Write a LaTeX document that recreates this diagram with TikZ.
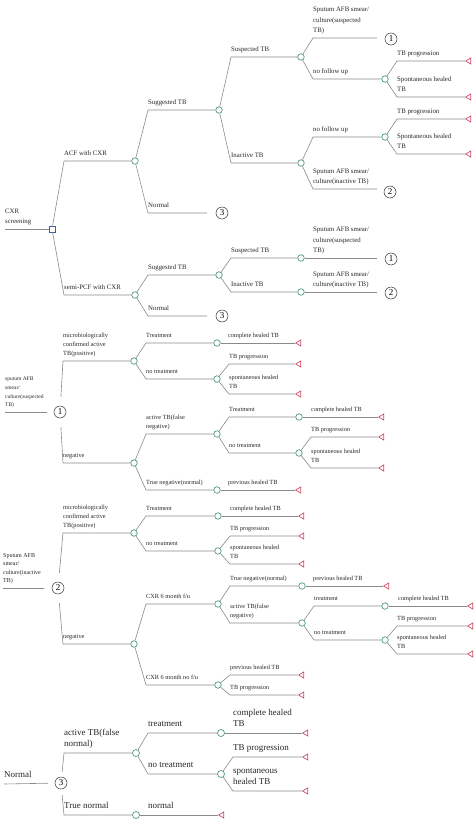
\documentclass[tikz,border=0pt]{standalone}
\usepackage{fontspec}
\setmainfont{Liberation Serif}
\usetikzlibrary{shapes.geometric}
\definecolor{linegray}{HTML}{8A8A8A}
\definecolor{chgreen}{HTML}{4E9A78}
\definecolor{termred}{HTML}{D04A64}
\definecolor{decblue}{HTML}{3A5BA8}

\begin{document}
\begin{tikzpicture}[x=1pt, y=-1pt,
	edge/.style = {draw=linegray, line width=0.6pt},
	chance/.style = {draw=chgreen, circle, fill=white, inner sep=0pt, minimum size=6.5pt, line width=0.7pt},
	dec/.style = {draw=decblue, rectangle, fill=white, inner sep=0pt, minimum size=6pt, line width=0.7pt},
	term/.style = {draw=termred, isosceles triangle, shape border rotate=180, isosceles triangle stretches, inner sep=0pt, minimum width=6pt, minimum height=5pt, line width=0.7pt},
	num/.style = {draw=black!80, circle, inner sep=0pt, minimum size=12pt, line width=0.5pt, font=\fontsize{9}{9}\selectfont},
	lbl/.style = {anchor=south west, inner sep=0pt, text depth=0pt, align=left, yshift=5pt, text=black!85, font=\fontsize{6.8}{10.5}\selectfont},
	sm/.style = {font=\fontsize{6.3}{9}\selectfont},
	big/.style = {font=\fontsize{9}{11}\selectfont, yshift=1.5pt}]
	\useasboundingbox (0,0) rectangle (474,822);

	%% CXR screening tree
	%% Nodes
	\coordinate (a0) at (5,229);
	\node[lbl] (ta0) at (a0) {CXR\\screening};
	\node[dec] (sq) at (52,229) {};

	\coordinate (a1s) at (64,161);
	\node[chance] (a1) at (135,161) {};
	\node[lbl] (ta1) at (a1s) {ACF with CXR};
	\coordinate (a2s) at (64,295);
	\node[chance] (a2) at (135,295) {};
	\node[lbl] (ta2) at (a2s) {semi-PCF with CXR};

	\coordinate (a11s) at (148,110);
	\node[chance] (a11) at (219,110) {};
	\node[lbl] (ta11) at (a11s) {Suggested TB};
	\coordinate (a12s) at (148,213);
	\coordinate (a12e) at (207,213);
	\node[num] (n3a) at (222,213) {3};
	\node[lbl] (ta12) at (a12s) {Normal};

	\coordinate (a111s) at (231,57);
	\node[chance] (a111) at (301,57) {};
	\node[lbl] (ta111) at (a111s) {Suspected TB};
	\coordinate (a112s) at (231,163);
	\node[chance] (a112) at (301,163) {};
	\node[lbl] (ta112) at (a112s) {Inactive TB};

	\coordinate (a1111s) at (313,38);
	\coordinate (a1111e) at (377,38);
	\node[num] (n1a) at (391,39) {1};
	\node[lbl] (ta1111) at (a1111s) {Sputum AFB smear/\\culture(suspected\\TB)};
	\coordinate (a1112s) at (313,79);
	\node[chance] (a1112) at (385,79) {};
	\node[lbl] (ta1112) at (a1112s) {no follow up};
	\coordinate (t1s) at (397,61);
	\node[term] (t1) at (469,61) {};
	\node[lbl] (tt1) at (t1s) {TB progression};
	\coordinate (t2s) at (397,97);
	\node[term] (t2) at (469,97) {};
	\node[lbl] (tt2) at (t2s) {Spontaneous healed\\TB};

	\coordinate (a1121s) at (313,137);
	\node[chance] (a1121) at (385,137) {};
	\node[lbl] (ta1121) at (a1121s) {no follow up};
	\coordinate (a1122s) at (313,189);
	\coordinate (a1122e) at (377,189);
	\node[num] (n2a) at (390,192) {2};
	\node[lbl] (ta1122) at (a1122s) {Sputum AFB smear/\\culture(inactive TB)};
	\coordinate (t3s) at (397,119);
	\node[term] (t3) at (469,119) {};
	\node[lbl] (tt3) at (t3s) {TB progression};
	\coordinate (t4s) at (397,154);
	\node[term] (t4) at (469,154) {};
	\node[lbl] (tt4) at (t4s) {Spontaneous healed\\TB};

	\coordinate (a21s) at (148,275);
	\node[chance] (a21) at (219,275) {};
	\node[lbl] (ta21) at (a21s) {Suggested TB};
	\coordinate (a22s) at (148,316);
	\coordinate (a22e) at (207,316);
	\node[num] (n3b) at (222,316) {3};
	\node[lbl] (ta22) at (a22s) {Normal};

	\coordinate (a211s) at (231,258);
	\node[chance] (a211) at (301,258) {};
	\node[lbl] (ta211) at (a211s) {Suspected TB};
	\coordinate (a212s) at (231,292);
	\node[chance] (a212) at (301,292) {};
	\node[lbl] (ta212) at (a212s) {Inactive TB};
	\coordinate (a211e) at (377,258);
	\node[num] (n1b) at (391,259) {1};
	\node[lbl] (ta2111) at (313,258) {Sputum AFB smear/\\culture(suspected\\TB)};
	\coordinate (a212e) at (377,292);
	\node[num] (n2b) at (391,293) {2};
	\node[lbl] (ta2121) at (313,292) {Sputum AFB smear/\\culture(inactive TB)};

	%% Edges
	\draw[edge] (a0) -- (sq);
	\draw[edge] (sq) -- (a1s) -- (a1);
	\draw[edge] (sq) -- (a2s) -- (a2);
	\draw[edge] (a1) -- (a11s) -- (a11);
	\draw[edge] (a1) -- (a12s) -- (a12e);
	\draw[edge] (a11) -- (a111s) -- (a111);
	\draw[edge] (a11) -- (a112s) -- (a112);
	\draw[edge] (a111) -- (a1111s) -- (a1111e);
	\draw[edge] (a111) -- (a1112s) -- (a1112);
	\draw[edge] (a1112) -- (t1s) -- (t1);
	\draw[edge] (a1112) -- (t2s) -- (t2);
	\draw[edge] (a112) -- (a1121s) -- (a1121);
	\draw[edge] (a112) -- (a1122s) -- (a1122e);
	\draw[edge] (a1121) -- (t3s) -- (t3);
	\draw[edge] (a1121) -- (t4s) -- (t4);
	\draw[edge] (a2) -- (a21s) -- (a21);
	\draw[edge] (a2) -- (a22s) -- (a22e);
	\draw[edge] (a21) -- (a211s) -- (a211);
	\draw[edge] (a21) -- (a212s) -- (a212);
	\draw[edge] (a211) -- (a211e);
	\draw[edge] (a212) -- (a212e);

	%% Sputum (suspected TB) tree
	%% Nodes
	\coordinate (b0) at (5,412);
	\node[lbl, font=\fontsize{5.5}{8.7}\selectfont] (tb0) at (b0) {sputum AFB\\smear/\\culture(suspected\\TB)};
	\node[num] (n1c) at (60,412) {1};

	\coordinate (b1s) at (63,361);
	\node[chance] (b1) at (134,361) {};
	\node[lbl, sm] (tb1) at (b1s) {microbiologically\\confirmed active\\TB(positive)};
	\coordinate (b2s) at (63,463);
	\node[chance] (b2) at (134,463) {};
	\node[lbl, sm] (tb2) at (b2s) {negative};

	\coordinate (b11s) at (146,343);
	\node[chance] (b11) at (217,343) {};
	\node[lbl, sm] (tb11) at (b11s) {Treatment};
	\coordinate (b12s) at (146,379);
	\node[chance] (b12) at (217,379) {};
	\node[lbl, sm] (tb12) at (b12s) {no treatment};
	\node[term] (e11) at (299,343) {};
	\node[lbl, sm] (te11) at (228,343) {complete healed TB};
	\coordinate (e121s) at (229,364);
	\node[term] (e121) at (299,364) {};
	\node[lbl, sm] (te121) at (e121s) {TB progression};
	\coordinate (e122s) at (229,394);
	\node[term] (e122) at (299,394) {};
	\node[lbl, sm] (te122) at (e122s) {spontaneous healed\\TB};

	\coordinate (b21s) at (146,434);
	\node[chance] (b21) at (217,434) {};
	\node[lbl, sm] (tb21) at (b21s) {active TB(false\\negative)};
	\coordinate (b22s) at (146,490);
	\node[chance] (b22) at (217,490) {};
	\node[lbl, sm] (tb22) at (b22s) {True negative(normal)};
	\coordinate (b211s) at (229,417);
	\node[chance] (b211) at (299,417) {};
	\node[lbl, sm] (tb211) at (b211s) {Treatment};
	\coordinate (b212s) at (229,453);
	\node[chance] (b212) at (299,453) {};
	\node[lbl, sm] (tb212) at (b212s) {no treatment};
	\node[term] (e211) at (382,417) {};
	\node[lbl, sm] (te211) at (311,417) {complete healed TB};
	\coordinate (e2121s) at (311,437);
	\node[term] (e2121) at (382,437) {};
	\node[lbl, sm] (te2121) at (e2121s) {TB progression};
	\coordinate (e2122s) at (311,468);
	\node[term] (e2122) at (382,468) {};
	\node[lbl, sm] (te2122) at (e2122s) {spontaneous healed\\TB};
	\node[term] (e22) at (299,490) {};
	\node[lbl, sm] (te22) at (228,490) {previous healed TB};

	%% Edges
	\draw[edge, shorten >=7pt] (b0) -- (n1c);
	\draw[edge, shorten <=9pt] (n1c) -- (b1s) -- (b1);
	\draw[edge, shorten <=9pt] (n1c) -- (b2s) -- (b2);
	\draw[edge] (b1) -- (b11s) -- (b11);
	\draw[edge] (b1) -- (b12s) -- (b12);
	\draw[edge] (b11) -- (e11);
	\draw[edge] (b12) -- (e121s) -- (e121);
	\draw[edge] (b12) -- (e122s) -- (e122);
	\draw[edge] (b2) -- (b21s) -- (b21);
	\draw[edge] (b2) -- (b22s) -- (b22);
	\draw[edge] (b21) -- (b211s) -- (b211);
	\draw[edge] (b21) -- (b212s) -- (b212);
	\draw[edge] (b211) -- (e211);
	\draw[edge] (b212) -- (e2121s) -- (e2121);
	\draw[edge] (b212) -- (e2122s) -- (e2122);
	\draw[edge] (b22) -- (e22);

	%% Sputum (inactive TB) tree
	%% Nodes
	\coordinate (c0) at (3,588);
	\node[lbl, font=\fontsize{6}{8.5}\selectfont] (tc0) at (c0) {Sputum AFB\\smear/\\culture(inactive\\TB)};
	\node[num] (n2c) at (58,588) {2};

	\coordinate (c1s) at (63,533);
	\node[chance] (c1) at (134,533) {};
	\node[lbl, sm] (tc1) at (c1s) {microbiologically\\confirmed active\\TB(positive)};
	\coordinate (c2s) at (63,644);
	\node[chance] (c2) at (134,644) {};
	\node[lbl, sm] (tc2) at (c2s) {negative};

	\coordinate (c11s) at (146,516);
	\node[chance] (c11) at (218,516) {};
	\node[lbl, sm] (tc11) at (c11s) {Treatment};
	\coordinate (c12s) at (146,551);
	\node[chance] (c12) at (218,551) {};
	\node[lbl, sm] (tc12) at (c12s) {no treatment};
	\node[term] (f11) at (302,516) {};
	\node[lbl, sm] (tf11) at (230,516) {complete healed TB};
	\coordinate (f121s) at (230,536);
	\node[term] (f121) at (302,536) {};
	\node[lbl, sm] (tf121) at (f121s) {TB progression};
	\coordinate (f122s) at (230,564);
	\node[term] (f122) at (302,564) {};
	\node[lbl, sm] (tf122) at (f122s) {spontaneous healed\\TB};

	\coordinate (c21s) at (146,604);
	\node[chance] (c21) at (218,604) {};
	\node[lbl, sm] (tc21) at (c21s) {CXR 6 month f/u};
	\coordinate (c22s) at (146,685);
	\node[chance] (c22) at (218,685) {};
	\node[lbl, sm] (tc22) at (c22s) {CXR 6 month no f/u};
	\coordinate (c211s) at (230,586);
	\node[chance] (c211) at (302,586) {};
	\node[lbl, sm] (tc211) at (c211s) {True negative(normal)};
	\coordinate (c212s) at (230,623);
	\node[chance] (c212) at (302,623) {};
	\node[lbl, sm] (tc212) at (c212s) {active TB(false\\negative)};
	\node[term] (f211) at (387,586) {};
	\node[lbl, sm] (tf211) at (313,586) {previous healed TB};
	\coordinate (c2121s) at (314,606);
	\node[chance] (c2121) at (385,606) {};
	\node[lbl, sm] (tc2121) at (c2121s) {treatment};
	\coordinate (c2122s) at (314,640);
	\node[chance] (c2122) at (385,640) {};
	\node[lbl, sm] (tc2122) at (c2122s) {no treatment};
	\node[term] (f2121) at (471,606) {};
	\node[lbl, sm] (tf2121) at (398,606) {complete healed TB};
	\coordinate (f21221s) at (397,626);
	\node[term] (f21221) at (471,626) {};
	\node[lbl, sm] (tf21221) at (f21221s) {TB progression};
	\coordinate (f21222s) at (397,654);
	\node[term] (f21222) at (471,654) {};
	\node[lbl, sm] (tf21222) at (f21222s) {spontaneous healed\\TB};
	\coordinate (f221s) at (230,675);
	\node[term] (f221) at (302,675) {};
	\node[lbl, sm] (tf221) at (f221s) {previous healed TB};
	\coordinate (f222s) at (230,695);
	\node[term] (f222) at (302,695) {};
	\node[lbl, sm] (tf222) at (f222s) {TB progression};

	%% Edges
	\draw[edge, shorten >=8pt] (c0) -- (n2c);
	\draw[edge, shorten <=9pt] (n2c) -- (c1s) -- (c1);
	\draw[edge, shorten <=9pt] (n2c) -- (c2s) -- (c2);
	\draw[edge] (c1) -- (c11s) -- (c11);
	\draw[edge] (c1) -- (c12s) -- (c12);
	\draw[edge] (c11) -- (f11);
	\draw[edge] (c12) -- (f121s) -- (f121);
	\draw[edge] (c12) -- (f122s) -- (f122);
	\draw[edge] (c2) -- (c21s) -- (c21);
	\draw[edge] (c2) -- (c22s) -- (c22);
	\draw[edge] (c21) -- (c211s) -- (c211);
	\draw[edge] (c21) -- (c212s) -- (c212);
	\draw[edge] (c211) -- (f211);
	\draw[edge] (c212) -- (c2121s) -- (c2121);
	\draw[edge] (c212) -- (c2122s) -- (c2122);
	\draw[edge] (c2121) -- (f2121);
	\draw[edge] (c2122) -- (f21221s) -- (f21221);
	\draw[edge] (c2122) -- (f21222s) -- (f21222);
	\draw[edge] (c22) -- (f221s) -- (f221);
	\draw[edge] (c22) -- (f222s) -- (f222);

	%% Normal tree
	%% Nodes
	\coordinate (d0) at (4,784);
	\node[lbl, big] (td0) at (d0) {Normal};
	\node[num] (n3c) at (61,783) {3};

	\coordinate (d1s) at (64,753);
	\node[chance, minimum size=7pt] (d1) at (136,753) {};
	\node[lbl, big] (td1) at (d1s) {active TB(false\\normal)};
	\coordinate (d2s) at (64,815);
	\node[chance, minimum size=7pt] (d2) at (136,815) {};
	\node[lbl, big] (td2) at (d2s) {True normal};

	\coordinate (d11s) at (148,733);
	\node[chance, minimum size=7pt] (d11) at (221,733) {};
	\node[lbl, big] (td11) at (d11s) {treatment};
	\coordinate (d12s) at (148,774);
	\node[chance, minimum size=7pt] (d12) at (221,774) {};
	\node[lbl, big] (td12) at (d12s) {no treatment};
	\node[term] (g11) at (306,733) {};
	\node[lbl, big] (tg11) at (233,733) {complete healed\\TB};
	\coordinate (g121s) at (233,757);
	\node[term] (g121) at (306,757) {};
	\node[lbl, big] (tg121) at (g121s) {TB progression};
	\coordinate (g122s) at (233,791);
	\node[term] (g122) at (306,791) {};
	\node[lbl, big] (tg122) at (g122s) {spontaneous\\healed TB};
	\node[term] (g2) at (222,815) {};
	\node[lbl, big] (tg2) at (148,815) {normal};

	%% Edges
	\draw[edge, shorten >=7pt] (d0) -- (n3c);
	\draw[edge, shorten <=5pt] (n3c) -- (d1s) -- (d1);
	\draw[edge, shorten <=6pt] (n3c) -- (d2s) -- (d2);
	\draw[edge] (d1) -- (d11s) -- (d11);
	\draw[edge] (d1) -- (d12s) -- (d12);
	\draw[edge] (d11) -- (g11);
	\draw[edge] (d12) -- (g121s) -- (g121);
	\draw[edge] (d12) -- (g122s) -- (g122);
	\draw[edge] (d2) -- (g2);

\end{tikzpicture}
\end{document}
